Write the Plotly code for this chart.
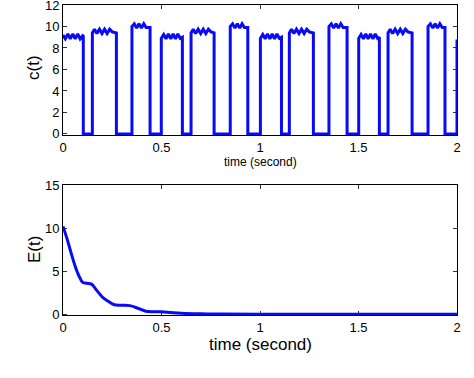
import plotly.graph_objects as go

# c(t) control signal: pulse train with small ripple on top
c_time = [
    0, 0.012, 0.025, 0.037, 0.05, 0.062, 0.075, 0.087, 0.1, 0.103, 0.103,
    0.149, 0.149, 0.16, 0.172, 0.185, 0.198, 0.211, 0.224, 0.237, 0.25, 0.271, 0.271,
    0.35, 0.35, 0.362, 0.374, 0.386, 0.398, 0.41, 0.422, 0.44, 0.442, 0.442,
    0.499, 0.499, 0.511, 0.523, 0.535, 0.547, 0.559, 0.571, 0.583, 0.595, 0.606, 0.606,
    0.65, 0.65, 0.661, 0.673, 0.686, 0.699, 0.712, 0.725, 0.738, 0.751, 0.767, 0.767,
    0.849, 0.849, 0.861, 0.873, 0.885, 0.897, 0.909, 0.921, 0.936, 0.938, 0.938,
    1.002, 1.002, 1.014, 1.026, 1.038, 1.05, 1.062, 1.074, 1.086, 1.098, 1.109, 1.109,
    1.149, 1.149, 1.16, 1.172, 1.185, 1.198, 1.211, 1.224, 1.237, 1.25, 1.271, 1.271,
    1.35, 1.35, 1.362, 1.374, 1.386, 1.398, 1.41, 1.422, 1.44, 1.442, 1.442,
    1.501, 1.501, 1.513, 1.525, 1.537, 1.549, 1.561, 1.573, 1.585, 1.597, 1.606, 1.606,
    1.65, 1.65, 1.661, 1.673, 1.686, 1.699, 1.712, 1.725, 1.738, 1.751, 1.772, 1.772,
    1.853, 1.853, 1.865, 1.877, 1.889, 1.901, 1.913, 1.925, 1.937, 1.939, 1.939,
    2.0, 2.0,
]
c_value = [
    9.2, 8.85, 9.3, 8.85, 9.3, 8.85, 9.3, 8.85, 9.15, 9.1, 0,
    0, 9.4, 9.75, 9.35, 9.75, 9.35, 9.75, 9.35, 9.75, 9.5, 9.4, 0,
    0, 10.0, 10.25, 9.85, 10.25, 9.85, 10.25, 9.9, 9.9, 9.9, 0,
    0, 8.9, 9.25, 8.85, 9.3, 8.85, 9.3, 8.85, 9.3, 8.9, 9.0, 0,
    0, 9.4, 9.75, 9.35, 9.75, 9.35, 9.75, 9.35, 9.75, 9.5, 9.4, 0,
    0, 10.0, 10.25, 9.85, 10.25, 9.85, 10.25, 9.9, 9.9, 9.9, 0,
    0, 8.9, 9.25, 8.85, 9.3, 8.85, 9.3, 8.85, 9.3, 8.9, 9.0, 0,
    0, 9.4, 9.75, 9.35, 9.75, 9.35, 9.75, 9.35, 9.75, 9.5, 9.4, 0,
    0, 10.0, 10.25, 9.85, 10.25, 9.85, 10.25, 9.9, 9.9, 9.9, 0,
    0, 8.9, 9.25, 8.85, 9.3, 8.85, 9.3, 8.85, 9.3, 8.9, 9.0, 0,
    0, 9.4, 9.75, 9.35, 9.75, 9.35, 9.75, 9.35, 9.75, 9.5, 9.4, 0,
    0, 10.0, 10.25, 9.85, 10.25, 9.85, 10.25, 9.9, 9.9, 9.9, 0,
    0, 8.8,
]

# E(t) energy decay
e_time = [0, 0.02, 0.04, 0.06, 0.08, 0.10, 0.12, 0.145, 0.17, 0.20, 0.23, 0.26,
          0.30, 0.34, 0.38, 0.42, 0.46, 0.50, 0.55, 0.60, 0.70, 0.80, 1.0, 2.0]
e_value = [10.2, 8.8, 7.2, 5.7, 4.5, 3.7, 3.6, 3.5, 2.8, 2.0, 1.5, 1.1,
           1.05, 1.0, 0.7, 0.35, 0.3, 0.3, 0.2, 0.12, 0.05, 0.02, 0.0, 0.0]

x_ticks = [0, 0.5, 1, 1.5, 2]
x_tick_labels = ["0", "0.5", "1", "1.5", "2"]
c_ticks = [0, 2, 4, 6, 8, 10, 12]
e_ticks = [0, 5, 10, 15]

W, H = 474, 378
line_color = "#0a0af5"
font_family = "Arial, Liberation Sans, sans-serif"

fig = go.Figure()
fig.add_trace(go.Scatter(x=c_time, y=c_value, mode="lines",
                         line=dict(color=line_color, width=3), xaxis="x", yaxis="y",
                         showlegend=False))
fig.add_trace(go.Scatter(x=e_time, y=e_value, mode="lines", line_shape="spline",
                         line=dict(color=line_color, width=3), xaxis="x2", yaxis="y2",
                         showlegend=False))

ax_common = dict(showline=True, linecolor="black", linewidth=1, mirror="ticks",
                 ticks="inside", ticklen=4, tickcolor="#333", showgrid=False,
                 zeroline=False, automargin=False, ticklabeloverflow="allow",
                 layer="below traces",
                 tickfont=dict(family=font_family, size=13, color="black"))

xdom = [63 / W, 457 / W]
label_font = dict(family=font_family, size=17, color="black")
fig.update_layout(
    width=W, height=H,
    margin=dict(l=0, r=0, t=0, b=0),
    paper_bgcolor="white", plot_bgcolor="white",
    xaxis=dict(domain=xdom, range=[0, 2], tickvals=x_ticks, ticktext=x_tick_labels,
               anchor="y", **ax_common),
    yaxis=dict(domain=[1 - 135 / H, 1 - 5 / H], range=[-0.1, 12.0001], tickvals=c_ticks,
               anchor="x", **ax_common),
    xaxis2=dict(domain=xdom, range=[0, 2], tickvals=x_ticks, ticktext=x_tick_labels,
                anchor="y2", **ax_common),
    yaxis2=dict(domain=[1 - 315.3 / H, 1 - 185 / H], range=[-0.12, 15.0001], tickvals=e_ticks,
                anchor="x2", **ax_common),
    annotations=[
        dict(text="c(t)", x=33 / W, y=1 - 68 / H, xref="paper", yref="paper",
             xanchor="center", yanchor="middle",
             textangle=-90, showarrow=False, font=label_font),
        dict(text="E(t)", x=34 / W, y=1 - 250 / H, xref="paper", yref="paper",
             xanchor="center", yanchor="middle",
             textangle=-90, showarrow=False, font=label_font),
        dict(text="time (second)", x=260 / W, y=1 - 161.5 / H, xref="paper", yref="paper",
             xanchor="center", yanchor="middle",
             showarrow=False, font=dict(family=font_family, size=12, color="black")),
        dict(text="time (second)", x=260 / W, y=1 - 344 / H, xref="paper", yref="paper",
             xanchor="center", yanchor="middle",
             showarrow=False, font=label_font),
    ],
)

fig.write_html("out.html", config={"displayModeBar": False},
               post_script="document.body.style.margin='0';document.body.style.padding='0';")
